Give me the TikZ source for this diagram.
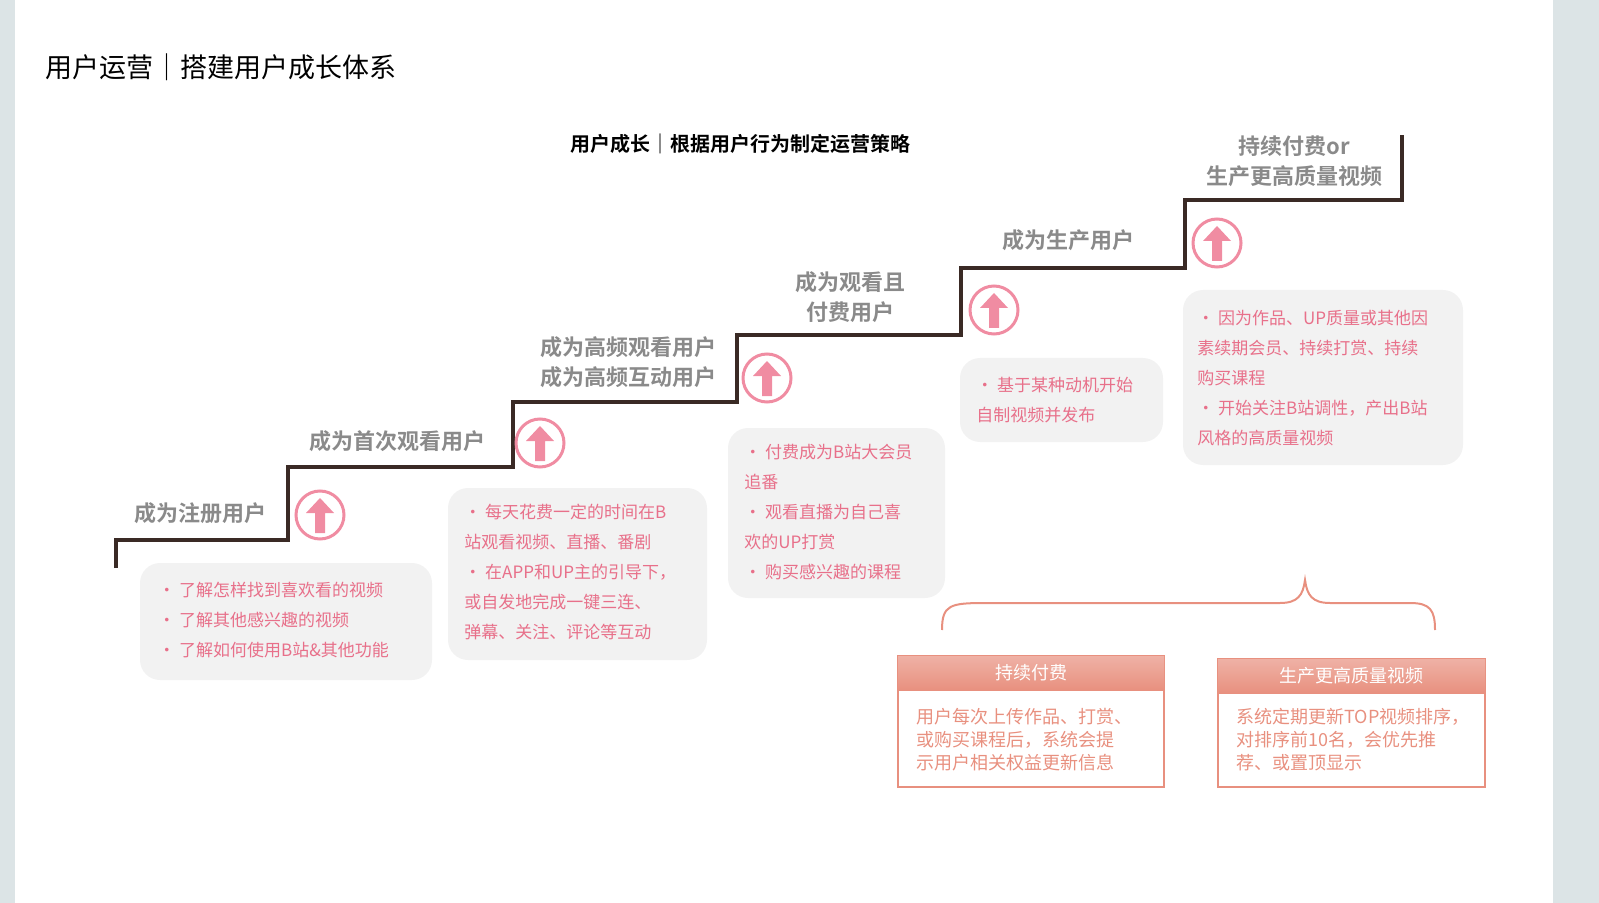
\documentclass[tikz,border=0pt]{standalone}
\usepackage{fontspec}
\setmainfont{Noto Sans CJK SC}
\newfontfamily\cjkb{Noto Sans CJK SC Bold}
\definecolor{stair}{HTML}{3A2A25}
\definecolor{pinkt}{HTML}{E8708A}
\definecolor{pinkc}{HTML}{F08CA2}
\definecolor{boxg}{HTML}{F2F2F2}
\definecolor{lab}{HTML}{8A8A8A}
\definecolor{salm}{HTML}{E8907F}
\definecolor{side}{HTML}{DCE4E6}
\begin{document}
\begin{tikzpicture}[x=0.5pt,y=-0.5pt,
  gbox/.style={fill=boxg,rounded corners=10pt},
  btxt/.style={anchor=west,text=pinkt,font=\fontsize{8.5pt}{10pt}\selectfont,inner sep=0pt},
  slab/.style={text=lab,font=\cjkb\fontsize{11pt}{15pt}\selectfont,align=center},
  upc/.style={circle,draw=pinkc,line width=1.5pt,minimum size=24pt,inner sep=0pt},
]
\useasboundingbox (0,0) rectangle (1599,903);
\fill[side] (0,0) rectangle (15,903);
\fill[side] (1553,0) rectangle (1599,903);
\node[anchor=west,font=\fontsize{13.5pt}{16pt}\selectfont] (t1) at (38,67) {用户运营｜搭建用户成长体系};
\node[font=\cjkb\fontsize{10pt}{12pt}\selectfont] (t2) at (740,144) {用户成长｜根据用户行为制定运营策略};
\draw[stair,line width=1.6pt] (116,568)--(116,540)--(288,540)--(288,467)--(513,467)--(513,402)--(737,402)--(737,335)--(961,335)--(961,268)--(1185,268)--(1185,200)--(1402,200)--(1402,135);
\foreach \n/\x/\y in {c1/320/515,c2/540/443,c3/767/378,c4/994/310,c5/1217/243}{
  \node[upc] (\n) at (\x,\y) {};
  \fill[pinkc] (\x-5,\y+18)--(\x-5,\y-2)--(\x-14,\y-2)--(\x,\y-17)--(\x+14,\y-2)--(\x+5,\y-2)--(\x+5,\y+18)--cycle;
}
\node[slab] (s1) at (200,513) {成为注册用户};
\node[slab] (s2) at (397,441) {成为首次观看用户};
\node[slab,align=right,anchor=east] (s3) at (724,362) {成为高频观看用户\\成为高频互动用户};
\node[slab] (s4) at (850,297) {成为观看且\\付费用户};
\node[slab] (s5) at (1068,240) {成为生产用户};
\node[slab] (s6) at (1294,161) {持续付费or\\生产更高质量视频};
\fill[gbox] (140,563) rectangle (432,680);
\node[btxt] at (158,590) {• 了解怎样找到喜欢看的视频};
\node[btxt] at (158,620) {• 了解其他感兴趣的视频};
\node[btxt] at (158,650) {• 了解如何使用B站\&其他功能};
\fill[gbox] (448,488) rectangle (707,660);
\node[btxt] at (464,512) {• 每天花费一定的时间在B};
\node[btxt] at (464,542) {站观看视频、直播、番剧};
\node[btxt] at (464,572) {• 在APP和UP主的引导下，};
\node[btxt] at (464,602) {或自发地完成一键三连、};
\node[btxt] at (464,632) {弹幕、关注、评论等互动};
\fill[gbox] (728,428) rectangle (945,598);
\node[btxt] at (744,452) {• 付费成为B站大会员};
\node[btxt] at (744,482) {追番};
\node[btxt] at (744,512) {• 观看直播为自己喜};
\node[btxt] at (744,542) {欢的UP打赏};
\node[btxt] at (744,572) {• 购买感兴趣的课程};
\fill[gbox] (960,358) rectangle (1163,442);
\node[btxt] at (976,385) {• 基于某种动机开始};
\node[btxt] at (976,415) {自制视频并发布};
\fill[gbox] (1183,290) rectangle (1463,465);
\node[btxt] at (1197,318) {• 因为作品、UP质量或其他因};
\node[btxt] at (1197,348) {素续期会员、持续打赏、持续};
\node[btxt] at (1197,378) {购买课程};
\node[btxt] at (1197,408) {• 开始关注B站调性，产出B站};
\node[btxt] at (1197,438) {风格的高质量视频};
\coordinate (bl) at (942,630); \coordinate (bm) at (1305,580); \coordinate (br) at (1435,630);
\draw[salm,line width=1pt] (bl) .. controls (942,605) and (950,603) .. (985,603) -- (1280,603) .. controls (1298,603) and (1303,595) .. (bm) .. controls (1307,595) and (1312,603) .. (1330,603) -- (1410,603) .. controls (1430,603) and (1435,610) .. (br);
\foreach \n/\xa/\xb/\ya/\ttl in {p/898/1164/656/持续付费,q/1218/1485/659/生产更高质量视频}{
  \draw[salm,line width=1pt] (\xa,\ya) rectangle (\xb,787);
  \shade[top color=salm!70,bottom color=salm] (\xa,\ya) rectangle (\xb,\ya+34);
  \node[text=white,font=\fontsize{9pt}{10pt}\selectfont] (\n h) at ({(\xa+\xb)/2},\ya+17) {\ttl};
}
\node[anchor=north west,text=salm,font=\fontsize{9pt}{11.5pt}\selectfont,align=left,inner sep=0pt] (pt) at (916,708) {用户每次上传作品、打赏、\\或购买课程后，系统会提\\示用户相关权益更新信息};
\node[anchor=north west,text=salm,font=\fontsize{9pt}{11.5pt}\selectfont,align=left,inner sep=0pt] (qt) at (1236,708) {系统定期更新TOP视频排序，\\对排序前10名，会优先推\\荐、或置顶显示};
\end{tikzpicture}
\end{document}
